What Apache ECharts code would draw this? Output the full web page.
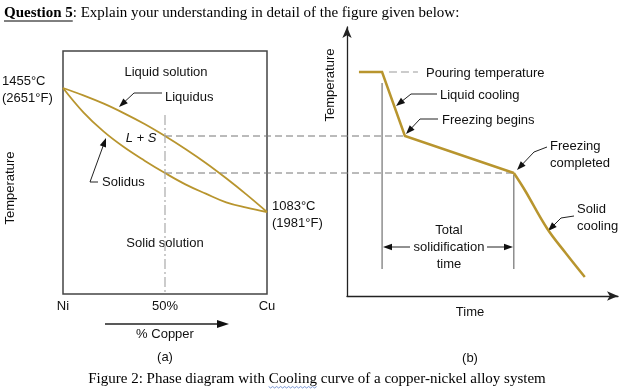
<!DOCTYPE html>
<html><head><meta charset="utf-8">
<script src="https://cdn.jsdelivr.net/npm/echarts@6/dist/echarts.min.js"></script>
<style>html,body{margin:0;padding:0;background:#fff}#c{width:633px;height:391px}</style>
</head><body><div id="c"></div>
<script>
// ---- data ----
const copperPct   = [0, 10, 20, 30, 40, 50, 60, 70, 80, 90, 100];
const liquidusT   = [1455, 1433, 1408, 1379, 1347, 1311, 1272, 1230, 1184, 1135, 1083];
const solidusT    = [1455, 1382, 1324, 1277, 1237, 1200, 1166, 1138, 1112, 1096, 1083];
const compTicks   = {0: 'Ni', 50: '50%', 100: 'Cu'};
const alloyPct    = 50;
const alloyLineTop = 1374;          // top of the 50% composition line
const coolTime    = [4.5, 13.2, 21.8, 62.8];
const coolTemp    = [1503, 1503, 1311, 1200];
const solidTime   = [62.8, 66.9, 75.2, 82.3, 89.5];
const solidTemp   = [1200, 1149, 1035, 960, 888];
const pourDash    = [15.8, 26.7];   // time span of the pouring-temperature dash
const freezeBeginT = 1311, freezeEndT = 1200;
const markTop = [1470, 1195], markBottom = 912;  // vertical time markers

const GOLD = '#b8952e';
const SANS = '"Liberation Sans", Arial, sans-serif';
const SERIF = '"Liberation Serif", "Times New Roman", serif';

const chart = echarts.init(document.getElementById('c'), null, {renderer: 'canvas'});

const base = {
  animation: false,
  backgroundColor: '#fff',
  grid: [
    {left: 63, top: 51, width: 204, height: 243, show: true, borderColor: '#444', borderWidth: 1.5, backgroundColor: 'transparent'},
    {left: 347, top: 27, width: 271, height: 269, show: false}
  ],
  xAxis: [
    {gridIndex: 0, type: 'value', min: 0, max: 100, interval: 50,
     axisLine: {show: false}, axisTick: {show: false}, splitLine: {show: false},
     axisLabel: {margin: 6, color: '#111', fontFamily: SANS, fontSize: 13, formatter: v => compTicks[v] || ''}},
    {gridIndex: 1, type: 'value', min: 0, max: 102,
     axisLine: {show: true, symbol: ['none', 'arrow'], symbolSize: [7, 11], lineStyle: {color: '#222', width: 1.3}},
     axisTick: {show: false}, axisLabel: {show: false}, splitLine: {show: false}}
  ],
  yAxis: [
    {gridIndex: 0, type: 'value', min: 837, max: 1566, show: false, splitLine: {show: false}},
    {gridIndex: 1, type: 'value', min: 831, max: 1638,
     axisLine: {show: true, onZero: false, symbol: ['none', 'arrow'], symbolSize: [7, 11], lineStyle: {color: '#222', width: 1.3}},
     axisTick: {show: false}, axisLabel: {show: false}, splitLine: {show: false}}
  ],
  series: []
};
chart.setOption(base);

const pair = (xs, ys) => xs.map((x, i) => [x, ys[i]]);
const lineS = (xi, data, style, extra) => Object.assign({
  type: 'line', xAxisIndex: xi, yAxisIndex: xi, data, symbol: 'none', silent: true,
  lineStyle: style, clip: false
}, extra || {});

const series = [
  lineS(0, pair(copperPct, liquidusT), {color: GOLD, width: 1.8}, {smooth: 0.4}),
  lineS(0, pair(copperPct, solidusT), {color: GOLD, width: 1.8}, {smooth: 0.4}),
  lineS(0, [[alloyPct, alloyLineTop], [alloyPct, 837]], {color: '#aaa', width: 1.2, type: [10, 3, 2, 3]}),
  lineS(1, [[coolTime[1], markTop[0]], [coolTime[1], markBottom]], {color: '#555', width: 1}),
  lineS(1, [[coolTime[3], markTop[1]], [coolTime[3], markBottom]], {color: '#555', width: 1}),
  lineS(1, [[pourDash[0], coolTemp[0]], [pourDash[1], coolTemp[0]]], {color: '#999', width: 1, type: [8, 4]}),
  lineS(1, pair(coolTime, coolTemp), {color: GOLD, width: 2.5, join: 'miter'}),
  lineS(1, pair(solidTime, solidTemp), {color: GOLD, width: 2.5}, {smooth: 0.4})
];

// ---- annotations ----
const g = [];
// dashed connectors from the 50% composition line (left panel) to the cooling curve (right panel),
// both ends located through the library's own scales
[[freezeBeginT, coolTime[2]], [freezeEndT, coolTime[3]]].forEach(([T, t]) => {
  const p1 = chart.convertToPixel({gridIndex: 0}, [alloyPct, T]);
  const p2 = chart.convertToPixel({gridIndex: 1}, [t, T]);
  g.push({type: 'line', silent: true, z: 1, shape: {x1: p1[0], y1: p2[1], x2: p2[0], y2: p2[1]},
    style: {stroke: '#777', lineWidth: 1, lineDash: [7, 4]}});
});

function txt(s, x, y, opt) {
  opt = opt || {};
  g.push({type: 'text', x: x, y: y, rotation: opt.rot || 0, silent: true,
    style: {text: s, x: 0, y: 0, fill: opt.fill || '#111', font: opt.font || ('13px ' + SANS),
      align: opt.align || 'center', verticalAlign: 'middle'}});
}
function arrow(pts, opt) {
  opt = opt || {};
  const n = pts.length, a = pts[n - 2], b = pts[n - 1];
  const dx = b[0] - a[0], dy = b[1] - a[1], L = Math.hypot(dx, dy);
  const ux = dx / L, uy = dy / L, len = opt.len || 9, hw = opt.hw || 3.3;
  const bx = b[0] - ux * len, by = b[1] - uy * len;
  const line = pts.slice(0, n - 1).concat([[bx + ux * 1, by + uy * 1]]);
  g.push({type: 'polyline', silent: true, shape: {points: line}, style: {stroke: opt.color || '#222', lineWidth: opt.w || 1, fill: null}});
  g.push({type: 'polygon', silent: true, shape: {points: [b, [bx - uy * hw, by + ux * hw], [bx + uy * hw, by - ux * hw]]}, style: {fill: opt.color || '#111'}});
}

// Title and caption (measure to place underline)
const mc = document.createElement('canvas').getContext('2d');
mc.font = 'bold 15px ' + SERIF;
const qW = mc.measureText('Question 5').width;
g.push({type: 'text', silent: true, style: {x: 4, y: 13, verticalAlign: 'middle', align: 'left',
  text: '{b|Question 5}{n|: Explain your understanding in detail of the figure given below:}',
  rich: {b: {font: 'bold 15px ' + SERIF, fill: '#000'}, n: {font: '15px ' + SERIF, fill: '#000'}}}});
g.push({type: 'line', silent: true, shape: {x1: 4, y1: 21, x2: 4 + qW, y2: 21}, style: {stroke: '#000', lineWidth: 1}});

const cap = 'Figure 2: Phase diagram with Cooling curve of a copper-nickel alloy system';
mc.font = '15px ' + SERIF;
const capW = mc.measureText(cap).width;
const capX = 317 - capW / 2;
g.push({type: 'text', silent: true, style: {x: capX, y: 379, text: cap, font: '15px ' + SERIF, fill: '#000', align: 'left', verticalAlign: 'middle'}});
const preW = mc.measureText('Figure 2: Phase diagram with ').width;
const cW = mc.measureText('Cooling').width;
const wave = [];
for (let x = 0; x <= cW; x += 2) wave.push([capX + preW + x, 387 + ((x / 2) % 2 ? 1 : -0.5)]);
g.push({type: 'polyline', silent: true, shape: {points: wave}, style: {stroke: '#5b7fc9', lineWidth: 0.8, fill: null}});

// Panel (a)
txt('Liquid solution', 166, 72);
txt('Liquidus', 165, 97, {align: 'left'});
arrow([[162, 93], [134, 93], [119, 107]]);
txt('L + S', 141, 138, {font: 'italic 13px ' + SANS});
txt('Solidus', 102, 182, {align: 'left'});
arrow([[98, 182], [90, 182], [106, 138]]);
txt('Solid solution', 165, 243);
txt('1455°C', 2, 81, {align: 'left'});
txt('(2651°F)', 2, 98, {align: 'left'});
txt('1083°C', 272, 206, {align: 'left'});
txt('(1981°F)', 272, 223, {align: 'left'});
txt('Temperature', 10, 188, {rot: Math.PI / 2});
arrow([[105, 324], [229, 324]], {len: 12, hw: 4, w: 1.3});
txt('% Copper', 165, 334);
txt('(a)', 165, 357);

// Panel (b)
txt('Temperature', 330, 85, {rot: Math.PI / 2});
txt('Pouring temperature', 426, 73, {align: 'left'});
txt('Liquid cooling', 440, 95, {align: 'left'});
arrow([[437, 94], [411, 94], [396, 106]]);
txt('Freezing begins', 442, 120, {align: 'left'});
arrow([[438, 119], [420, 119], [406, 134]]);
txt('Freezing', 550, 146, {align: 'left'});
txt('completed', 550, 163, {align: 'left'});
arrow([[547, 147], [534, 152], [517, 170]]);
txt('Solid', 577, 209, {align: 'left'});
txt('cooling', 577, 226, {align: 'left'});
arrow([[574, 216], [561, 218], [548, 231]]);
txt('Total', 449, 230);
txt('solidification', 449, 247);
txt('time', 449, 264);
arrow([[410, 247], [383, 247]]);
arrow([[487, 247], [513, 247]]);
txt('Time', 470, 312);
txt('(b)', 470, 358);

chart.setOption({series: series, graphic: {elements: g}});
</script></body></html>
